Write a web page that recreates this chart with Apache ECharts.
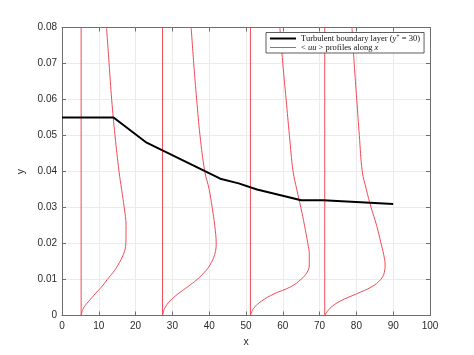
<!DOCTYPE html>
<html>
<head>
<meta charset="utf-8">
<script src="https://cdn.jsdelivr.net/npm/echarts@6/dist/echarts.min.js"></script>
<style>html,body{margin:0;padding:0;background:#fff}#c{width:474px;height:355px}</style>
</head>
<body>
<div id="c"></div>
<script>
// boundary layer line (y+ = 30)
var blX = [0, 14, 23, 43, 48, 53, 65, 71, 90];
var blY = [0.055, 0.055, 0.048, 0.038, 0.0367, 0.035, 0.032, 0.032, 0.031];

// <uu> profile curves: x position at each y level
var profY = [0, 0.002, 0.004, 0.006, 0.008, 0.01, 0.012, 0.014, 0.017, 0.02, 0.025, 0.03, 0.035, 0.04, 0.05, 0.06, 0.07, 0.08];
var prof1 = [5.2, 5.8, 7.3, 9.0, 10.8, 12.3, 13.9, 15.2, 16.7, 17.35, 17.4, 16.9, 16.2, 15.5, 14.4, 13.5, 12.8, 12.1];
var prof2 = [27.3, 27.9, 29.3, 31.5, 34.2, 36.7, 38.7, 40.2, 41.5, 41.9, 41.5, 40.8, 40.0, 38.8, 37.5, 36.6, 35.8, 35.1];
var prof3 = [51.2, 52.1, 54.2, 57.6, 62.2, 64.9, 66.6, 67.2, 67.2, 66.8, 65.9, 64.9, 63.8, 62.8, 61.8, 60.9, 60.0, 59.2];
var prof4 = [71.4, 72.8, 75.6, 80.0, 84.2, 86.6, 87.6, 87.8, 87.4, 86.7, 85.5, 84.0, 82.7, 81.6, 80.8, 80.1, 79.4, 78.8];
var baselines = [5.2, 27.3, 51.2, 71.4];

var xTicks = [0, 10, 20, 30, 40, 50, 60, 70, 80, 90, 100];
var yTicks = [0, 0.01, 0.02, 0.03, 0.04, 0.05, 0.06, 0.07, 0.08];

var RED = '#f04a56';
var AX = '#6e6e6e';
var TXT = '#2a2a2a';
var NAME_BL = 'bl';
var NAME_UU = 'uu';

var profiles = [prof1, prof2, prof3, prof4];
var series = [];
baselines.forEach(function (b) {
  series.push({
    name: NAME_UU, type: 'line', symbol: 'none', z: 2,
    lineStyle: { color: RED, width: 1 }, itemStyle: { color: RED },
    data: [[b, yTicks[0]], [b, yTicks[yTicks.length - 1]]]
  });
});
profiles.forEach(function (p) {
  series.push({
    name: NAME_UU, type: 'line', symbol: 'none', z: 2,
    smooth: 0.4,
    lineStyle: { color: RED, width: 1 }, itemStyle: { color: RED },
    data: p.map(function (x, i) { return [x, profY[i]]; })
  });
});
series.push({
  name: NAME_BL, type: 'line', symbol: 'none', z: 5,
  lineStyle: { color: '#000', width: 2 }, itemStyle: { color: '#000' },
  data: blX.map(function (x, i) { return [x, blY[i]]; })
});

var gridStyle = { show: true, lineStyle: { color: '#ebebeb', width: 1 } };
var SERIF = 'Liberation Serif, DejaVu Serif, serif';
var SANS = 'Liberation Sans, Arial, sans-serif';
var chart = echarts.init(document.getElementById('c'), null, { renderer: 'canvas' });
chart.setOption({
  animation: false,
  backgroundColor: '#fff',
  grid: { left: 62, right: 44, top: 27.5, bottom: 39.5, containLabel: false },
  legend: {
    data: [
      { name: NAME_BL, icon: 'path://M0,0H26V2H0Z', itemStyle: { color: '#000' } },
      { name: NAME_UU, icon: 'path://M0,0H26V1H0Z', itemStyle: { color: RED } }
    ],
    orient: 'vertical',
    left: 266, top: 32.5,
    padding: [1, 4, 1, 4],
    itemGap: 0,
    itemWidth: 26, itemHeight: 10,
    symbolKeepAspect: true,
    backgroundColor: '#fff',
    borderColor: '#333', borderWidth: 0.8,
    selectedMode: false,
    textStyle: {
      fontFamily: SERIF, fontSize: 8.5, color: '#111',
      rich: {
        n: { fontFamily: SERIF, fontSize: 8.5, color: '#111' },
        i: { fontFamily: SERIF, fontSize: 8.5, color: '#111', fontStyle: 'italic' },
        s: { fontFamily: SERIF, fontSize: 6, color: '#111', verticalAlign: 'top', padding: [0, 0, 4, 0] }
      }
    },
    formatter: function (n) {
      if (n === NAME_BL) return '{n|Turbulent boundary layer (}{i|y}{s|+}{n| = 30)}';
      return '{n|< }{i|uu}{n| > profiles along }{i|x}';
    }
  },
  xAxis: [{
    type: 'value', min: xTicks[0], max: xTicks[xTicks.length - 1], interval: 10,
    name: 'x', nameLocation: 'middle', nameGap: 20,
    nameTextStyle: { fontFamily: SANS, fontSize: 10.5, color: TXT },
    axisLine: { show: true, onZero: false, lineStyle: { color: AX, width: 1 } },
    axisTick: { show: true, inside: true, length: 4, lineStyle: { color: AX } },
    axisLabel: { fontFamily: SANS, fontSize: 10, color: TXT, margin: 6 },
    splitLine: gridStyle
  }, {
    type: 'value', position: 'top', min: xTicks[0], max: xTicks[xTicks.length - 1], interval: 10,
    axisLine: { show: true, onZero: false, lineStyle: { color: AX, width: 1 } },
    axisTick: { show: true, inside: true, length: 4, lineStyle: { color: AX } },
    axisLabel: { show: false }, splitLine: { show: false }
  }],
  yAxis: [{
    type: 'value', min: yTicks[0], max: yTicks[yTicks.length - 1], interval: 0.01,
    name: 'y', nameLocation: 'middle', nameGap: 27, nameRotate: 90,
    nameTextStyle: { fontFamily: SANS, fontSize: 10.5, color: TXT },
    axisLine: { show: true, onZero: false, lineStyle: { color: AX, width: 1 } },
    axisTick: { show: true, inside: true, length: 4, lineStyle: { color: AX } },
    axisLabel: { fontFamily: SANS, fontSize: 10, color: TXT, margin: 5 },
    splitLine: gridStyle
  }, {
    type: 'value', position: 'right', min: yTicks[0], max: yTicks[yTicks.length - 1], interval: 0.01,
    axisLine: { show: true, onZero: false, lineStyle: { color: AX, width: 1 } },
    axisTick: { show: true, inside: true, length: 4, lineStyle: { color: AX } },
    axisLabel: { show: false }, splitLine: { show: false }
  }],
  series: series
});
</script>
</body>
</html>
